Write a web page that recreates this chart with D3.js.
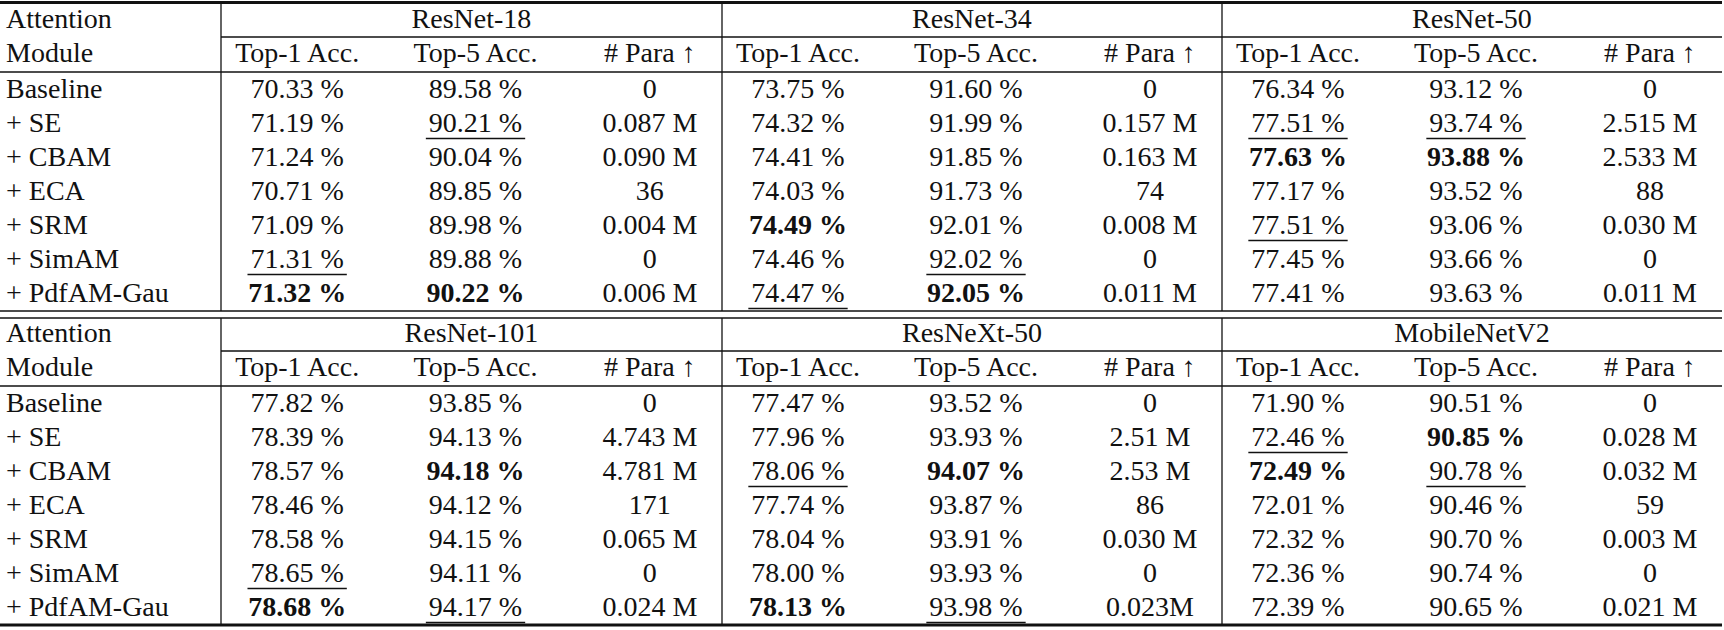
<!DOCTYPE html>
<html><head><meta charset="utf-8">
<script src="https://cdn.jsdelivr.net/npm/d3@7"></script>
<style>body{margin:0;background:#fff}svg{display:block}text{font-family:"Liberation Serif","Tinos","Times New Roman","Nimbus Roman","DejaVu Serif",serif}</style>
</head><body><svg id="c" width="1724" height="630"></svg>
<script>
// markup: *x* = bold, _x_ = underlined
const modules = ["Baseline","+ SE","+ CBAM","+ ECA","+ SRM","+ SimAM","+ PdfAM-Gau"];
const subHeaders = ["Top-1 Acc.","Top-5 Acc.","# Para ↑"];
const topNets = ["ResNet-18","ResNet-34","ResNet-50"];
const bottomNets = ["ResNet-101","ResNeXt-50","MobileNetV2"];
const resnet18 = [["70.33 %","89.58 %","0"],["71.19 %","_90.21 %_","0.087 M"],["71.24 %","90.04 %","0.090 M"],["70.71 %","89.85 %","36"],["71.09 %","89.98 %","0.004 M"],["_71.31 %_","89.88 %","0"],["*71.32 %*","*90.22 %*","0.006 M"]];
const resnet34 = [["73.75 %","91.60 %","0"],["74.32 %","91.99 %","0.157 M"],["74.41 %","91.85 %","0.163 M"],["74.03 %","91.73 %","74"],["*74.49 %*","92.01 %","0.008 M"],["74.46 %","_92.02 %_","0"],["_74.47 %_","*92.05 %*","0.011 M"]];
const resnet50 = [["76.34 %","93.12 %","0"],["_77.51 %_","_93.74 %_","2.515 M"],["*77.63 %*","*93.88 %*","2.533 M"],["77.17 %","93.52 %","88"],["_77.51 %_","93.06 %","0.030 M"],["77.45 %","93.66 %","0"],["77.41 %","93.63 %","0.011 M"]];
const resnet101 = [["77.82 %","93.85 %","0"],["78.39 %","94.13 %","4.743 M"],["78.57 %","*94.18 %*","4.781 M"],["78.46 %","94.12 %","171"],["78.58 %","94.15 %","0.065 M"],["_78.65 %_","94.11 %","0"],["*78.68 %*","_94.17 %_","0.024 M"]];
const resnext50 = [["77.47 %","93.52 %","0"],["77.96 %","93.93 %","2.51 M"],["_78.06 %_","*94.07 %*","2.53 M"],["77.74 %","93.87 %","86"],["78.04 %","93.91 %","0.030 M"],["78.00 %","93.93 %","0"],["*78.13 %*","_93.98 %_","0.023M"]];
const mobilenetv2 = [["71.90 %","90.51 %","0"],["_72.46 %_","*90.85 %*","0.028 M"],["*72.49 %*","_90.78 %_","0.032 M"],["72.01 %","90.46 %","59"],["72.32 %","90.70 %","0.003 M"],["72.36 %","90.74 %","0"],["72.39 %","90.65 %","0.021 M"]];

const svg = d3.select("#c");
const fs = 28;
const groupX = d3.scaleOrdinal().domain([0,1,2]).range([221,722,1222]);
const groupEnd = [722,1222,1722];
const colFrac = [0.152,0.508,0.856];
const rowY = d3.scaleLinear().domain([0,1]).range([0,34]);

function txt(x,y,s,anchor){
  let bold=false,ul=false;
  if(s.startsWith("*")){bold=true;s=s.slice(1,-1);}
  else if(s.startsWith("_")){ul=true;s=s.slice(1,-1);}
  const t=svg.append("text").attr("x",x).attr("y",y).attr("text-anchor",anchor||"middle")
    .attr("font-size",fs).attr("font-weight",bold?"bold":"normal").attr("fill","#111").text(s);
  if(ul){const b=t.node().getBBox();
    svg.append("line").attr("x1",b.x-3).attr("x2",b.x+b.width+3).attr("y1",y+6).attr("y2",y+6).attr("stroke","#111").attr("stroke-width",1.5);}
}
function hline(x1,x2,y,w){svg.append("line").attr("x1",x1).attr("x2",x2).attr("y1",y).attr("y2",y).attr("stroke","#111").attr("stroke-width",w);}
function vline(x,y1,y2){svg.append("line").attr("x1",x).attr("x2",x).attr("y1",y1).attr("y2",y2).attr("stroke","#111").attr("stroke-width",1.3);}

function block(top, nets, datas){
  txt(6,top,"Attention","start");
  txt(6,top+rowY(1),"Module","start");
  nets.forEach((n,g)=>{
    const x0=groupX(g),w=groupEnd[g]-x0;
    txt(x0+w/2,top,n);
    subHeaders.forEach((h,c)=>txt(x0+w*colFrac[c],top+rowY(1),h));
    datas[g].forEach((row,r)=>row.forEach((v,c)=>txt(x0+w*colFrac[c],top+rowY(2.07+r),v)));
  });
  modules.forEach((m,r)=>txt(6,top+rowY(2.07+r),m,"start"));
  hline(221,1722,top+9,1.3);
  hline(0,1722,top+rowY(1)+10,1.3);
}
hline(0,1722,2.5,3);
block(28,topNets,[resnet18,resnet34,resnet50]);
[221,722,1222].forEach(x=>vline(x,4,311));
hline(0,1722,311,1.3);
hline(0,1722,318,1.3);
block(342,bottomNets,[resnet101,resnext50,mobilenetv2]);
[221,722,1222].forEach(x=>vline(x,318,624));
hline(0,1722,625,3);
</script></body></html>
